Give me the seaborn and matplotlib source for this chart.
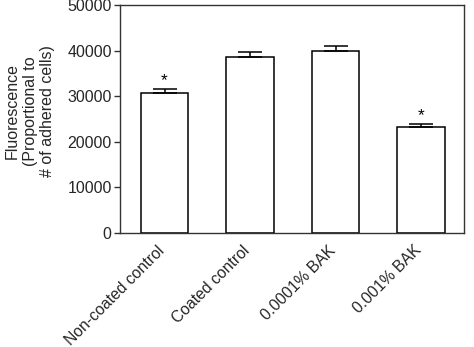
import matplotlib
matplotlib.use("Agg")
import matplotlib.pyplot as plt
import matplotlib.transforms as mtransforms
import seaborn as sns
import pandas as pd

categories = ["Non-coated control", "Coated control", "0.0001% BAK", "0.001% BAK"]
fluorescence = [30600, 38700, 40000, 23200]
sem = [900, 950, 1100, 750]
significant = [True, False, False, True]
y_ticks = [0, 10000, 20000, 30000, 40000, 50000]

sns.set_theme(style="ticks")
plt.rcParams["font.family"] = ["Liberation Sans", "DejaVu Sans"]

df = pd.DataFrame({"group": categories, "value": fluorescence})

fig = plt.figure(figsize=(4.74, 3.47), dpi=100)
ax = fig.add_axes([0.2532, 0.3285, 0.7257, 0.6571])

sns.barplot(data=df, x="group", y="value", color="white", edgecolor="black",
            linewidth=1.1, width=0.556, errorbar=None, ax=ax, saturation=1)

# one-sided (upper) SEM bars
ax.errorbar(range(len(categories)), fluorescence,
            yerr=[[0] * len(sem), sem], fmt="none", ecolor="black",
            elinewidth=1.1, capsize=8.7, capthick=1.1)

for i, (v, e, sig) in enumerate(zip(fluorescence, sem, significant)):
    if sig:
        ax.text(i, v + e + 200, "*", ha="center", va="bottom", fontsize=12.5,
                color="black")

ax.set_xlim(-0.52, 3.5)
ax.set_ylim(0, 50000)
ax.set_yticks(y_ticks)
ax.set_yticklabels([str(t) for t in y_ticks], fontsize=11.5)
ax.tick_params(axis="y", length=4, width=1, color="#333333", pad=2)
ax.tick_params(axis="x", length=0, pad=7)
ax.set_xticks(range(len(categories)))
ax.set_xticklabels(categories, rotation=45, ha="right", va="top",
                   rotation_mode="anchor", fontsize=11.3)
shift = mtransforms.ScaledTranslation(-8 / 100, 0, fig.dpi_scale_trans)
for lbl in ax.get_xticklabels():
    lbl.set_transform(lbl.get_transform() + shift)
ax.set_xlabel("")
ax.set_ylabel("Fluorescence\n(Proportional to\n# of adhered cells)",
              fontsize=11.5, linespacing=1.2)
ax.yaxis.set_label_coords(-0.189, 0.535)

for side in ["left", "right", "top", "bottom"]:
    ax.spines[side].set_visible(True)
    ax.spines[side].set_color("#333333")
    ax.spines[side].set_linewidth(1.0)

fig.savefig("out.png", dpi=100)
